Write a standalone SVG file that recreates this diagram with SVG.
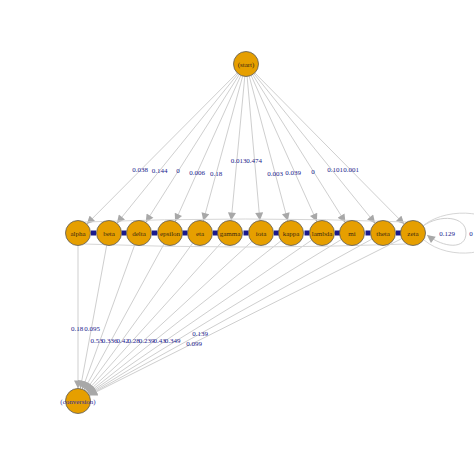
<svg xmlns="http://www.w3.org/2000/svg" width="474" height="474" viewBox="0 0 474 474">
<style>
.e{stroke:#cfcfcf;stroke-width:1;fill:none;marker-end:url(#ah)}
.f{stroke:#d6d6d6;stroke-width:1;fill:none}
.lb{font-family:"Liberation Serif",serif;font-size:7px;fill:#1a1a8c;text-anchor:middle}
.n circle{fill:#E69F00;stroke:#5a5a5a;stroke-width:0.8}
.n text{font-family:"Liberation Serif",serif;font-size:7px;fill:#3a2a10;text-anchor:middle}
.bar{fill:#1a1a8c}
</style>
<defs>
<marker id="ah" viewBox="0 0 10 10" refX="10" refY="5" markerWidth="9" markerHeight="8" markerUnits="userSpaceOnUse" orient="auto">
<path d="M0,0 L10,5 L0,10 Z" fill="#a8a8a8"/>
</marker>
</defs>
<rect width="474" height="474" fill="#ffffff"/>
<g id="connectors">
<line class="e" x1="237.2" y1="72.9" x2="86.8" y2="224.1"/>
<line class="e" x1="238.1" y1="73.7" x2="116.9" y2="223.3"/>
<line class="e" x1="239.3" y1="74.6" x2="145.7" y2="222.4"/>
<line class="e" x1="240.9" y1="75.4" x2="175.1" y2="221.6"/>
<line class="e" x1="242.7" y1="76.1" x2="203.3" y2="220.9"/>
<line class="e" x1="244.8" y1="76.4" x2="231.2" y2="220.6"/>
<line class="e" x1="247.1" y1="76.4" x2="259.9" y2="220.6"/>
<line class="e" x1="249.2" y1="76.1" x2="287.8" y2="220.9"/>
<line class="e" x1="251.1" y1="75.4" x2="316.9" y2="221.6"/>
<line class="e" x1="252.6" y1="74.6" x2="345.4" y2="222.4"/>
<line class="e" x1="253.9" y1="73.7" x2="375.1" y2="223.3"/>
<line class="e" x1="254.8" y1="72.9" x2="404.2" y2="224.1"/>
<line class="e" x1="78" y1="245.5" x2="78" y2="388.5"/>
<line class="e" x1="106.7" y1="245.3" x2="80.3" y2="388.7"/>
<line class="e" x1="134.7" y1="244.8" x2="82.3" y2="389.3"/>
<line class="e" x1="164.0" y1="244.0" x2="84.0" y2="390.0"/>
<line class="e" x1="192.7" y1="243.1" x2="85.3" y2="390.9"/>
<line class="e" x1="221.6" y1="242.3" x2="86.4" y2="391.7"/>
<line class="e" x1="251.8" y1="241.5" x2="87.2" y2="392.5"/>
<line class="e" x1="281.2" y1="240.7" x2="87.8" y2="393.3"/>
<line class="e" x1="311.7" y1="240.1" x2="88.3" y2="393.9"/>
<line class="e" x1="341.3" y1="239.5" x2="88.7" y2="394.5"/>
<line class="e" x1="372.0" y1="239.0" x2="89.0" y2="395.0"/>
<line class="e" x1="401.8" y1="238.6" x2="89.2" y2="395.4"/>
<path class="f" d="M84,222 Q245,216 408,222"/>
<path class="f" d="M84,244 Q245,250 408,244"/>
<path class="e" d="M423,226 C440,214 466,216 466,233 C466,250 444,248 427,235"/>
<path class="f" d="M424,225 C450,205 500,212 500,233 C500,254 450,262 424,240"/>
<rect class="bar" x="91" y="230.5" width="5" height="5"/>
<rect class="bar" x="121.5" y="230.5" width="5" height="5"/>
<rect class="bar" x="152" y="230.5" width="5" height="5"/>
<rect class="bar" x="182.5" y="230.5" width="5" height="5"/>
<rect class="bar" x="213" y="230.5" width="5" height="5"/>
<rect class="bar" x="243.5" y="230.5" width="5" height="5"/>
<rect class="bar" x="274" y="230.5" width="5" height="5"/>
<rect class="bar" x="304.5" y="230.5" width="5" height="5"/>
<rect class="bar" x="335" y="230.5" width="5" height="5"/>
<rect class="bar" x="365.5" y="230.5" width="5" height="5"/>
<rect class="bar" x="396" y="230.5" width="5" height="5"/>
<text class="lb" x="140" y="172">0.038</text>
<text class="lb" x="159.5" y="173">0.144</text>
<text class="lb" x="178" y="173">0</text>
<text class="lb" x="197" y="175">0.006</text>
<text class="lb" x="216" y="176">0.18</text>
<text class="lb" x="238.5" y="163">0.013</text>
<text class="lb" x="254" y="163">0.474</text>
<text class="lb" x="275" y="176">0.003</text>
<text class="lb" x="293" y="175">0.039</text>
<text class="lb" x="313" y="174">0</text>
<text class="lb" x="335" y="172">0.101</text>
<text class="lb" x="351" y="172">0.001</text>
<text class="lb" x="77" y="331">0.18</text>
<text class="lb" x="92" y="331">0.095</text>
<text class="lb" x="96.5" y="343">0.53</text>
<text class="lb" x="109.5" y="343">0.336</text>
<text class="lb" x="122.5" y="343">0.42</text>
<text class="lb" x="133.5" y="343">0.28</text>
<text class="lb" x="146.5" y="343">0.239</text>
<text class="lb" x="159.5" y="343">0.43</text>
<text class="lb" x="172.5" y="343">0.349</text>
<text class="lb" x="200" y="336">0.139</text>
<text class="lb" x="194" y="346">0.099</text>
<text class="lb" x="447" y="236">0.129</text>
<text class="lb" x="471" y="236">0</text>
</g>
<g id="start" class="n"><circle cx="246" cy="64" r="12.5"/><text x="246" y="66.5">(start)</text></g>
<g id="alpha" class="n"><circle cx="78" cy="233" r="12.5"/><text x="78" y="235.5">alpha</text></g>
<g id="beta" class="n"><circle cx="109" cy="233" r="12.5"/><text x="109" y="235.5">beta</text></g>
<g id="delta" class="n"><circle cx="139" cy="233" r="12.5"/><text x="139" y="235.5">delta</text></g>
<g id="epsilon" class="n"><circle cx="170" cy="233" r="12.5"/><text x="170" y="235.5">epsilon</text></g>
<g id="eta" class="n"><circle cx="200" cy="233" r="12.5"/><text x="200" y="235.5">eta</text></g>
<g id="gamma" class="n"><circle cx="230" cy="233" r="12.5"/><text x="230" y="235.5">gamma</text></g>
<g id="iota" class="n"><circle cx="261" cy="233" r="12.5"/><text x="261" y="235.5">iota</text></g>
<g id="kappa" class="n"><circle cx="291" cy="233" r="12.5"/><text x="291" y="235.5">kappa</text></g>
<g id="lambda" class="n"><circle cx="322" cy="233" r="12.5"/><text x="322" y="235.5">lambda</text></g>
<g id="mi" class="n"><circle cx="352" cy="233" r="12.5"/><text x="352" y="235.5">mi</text></g>
<g id="theta" class="n"><circle cx="383" cy="233" r="12.5"/><text x="383" y="235.5">theta</text></g>
<g id="zeta" class="n"><circle cx="413" cy="233" r="12.5"/><text x="413" y="235.5">zeta</text></g>
<g id="conversion" class="n"><circle cx="78" cy="401" r="12.5"/><text x="78" y="403.5" style="fill:#2a2aa0">(conversion)</text></g>
</svg>
